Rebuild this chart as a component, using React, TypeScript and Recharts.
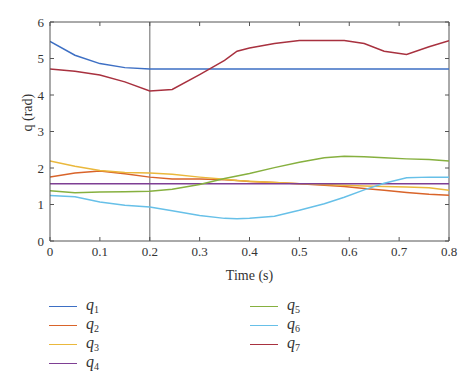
import { LineChart, Line, XAxis, YAxis, ReferenceLine } from "recharts";

const time = [0, 0.05, 0.1, 0.15, 0.2, 0.245, 0.3, 0.35, 0.375, 0.4, 0.45, 0.5, 0.55, 0.59, 0.63, 0.67, 0.715, 0.76, 0.8];

const q1 = [5.47, 5.09, 4.86, 4.75, 4.71, 4.71, 4.71, 4.71, 4.71, 4.71, 4.71, 4.71, 4.71, 4.71, 4.71, 4.71, 4.71, 4.71, 4.71];
const q2 = [1.75, 1.86, 1.92, 1.84, 1.75, 1.7, 1.7, 1.68, 1.66, 1.63, 1.6, 1.57, 1.53, 1.49, 1.44, 1.39, 1.33, 1.28, 1.25];
const q3 = [2.19, 2.05, 1.93, 1.88, 1.86, 1.83, 1.75, 1.69, 1.66, 1.64, 1.6, 1.57, 1.55, 1.53, 1.51, 1.49, 1.48, 1.46, 1.39];
const q4 = [1.57, 1.57, 1.57, 1.57, 1.57, 1.57, 1.57, 1.57, 1.57, 1.57, 1.57, 1.57, 1.57, 1.57, 1.57, 1.57, 1.57, 1.57, 1.57];
const q5 = [1.38, 1.32, 1.34, 1.35, 1.36, 1.42, 1.55, 1.71, 1.78, 1.85, 2.01, 2.16, 2.28, 2.32, 2.31, 2.28, 2.25, 2.23, 2.19];
const q6 = [1.25, 1.21, 1.07, 0.98, 0.93, 0.83, 0.7, 0.62, 0.61, 0.62, 0.68, 0.84, 1.02, 1.2, 1.4, 1.58, 1.73, 1.75, 1.75];
const q7 = [4.71, 4.65, 4.55, 4.36, 4.11, 4.15, 4.56, 4.95, 5.2, 5.29, 5.41, 5.49, 5.49, 5.49, 5.41, 5.2, 5.11, 5.32, 5.49];

const xTicks = [0, 0.1, 0.2, 0.3, 0.4, 0.5, 0.6, 0.7, 0.8];
const yTicks = [0, 1, 2, 3, 4, 5, 6];
const xMax = 0.8;

const series = [
  { key: "q1", sub: "1", color: "#3d6fc4", values: q1 },
  { key: "q2", sub: "2", color: "#d9642a", values: q2 },
  { key: "q3", sub: "3", color: "#eab83c", values: q3 },
  { key: "q4", sub: "4", color: "#7e3f94", values: q4 },
  { key: "q5", sub: "5", color: "#86b03f", values: q5 },
  { key: "q6", sub: "6", color: "#67c0e8", values: q6 },
  { key: "q7", sub: "7", color: "#a8313f", values: q7 },
];

const data = time.map((t, i) => {
  const row: Record<string, number> = { t };
  series.forEach((s) => (row[s.key] = s.values[i]));
  return row;
});

const serif = "Liberation Serif";
const axisColor = "#555";
const tickStyle = { fill: "#333", fontSize: 13, fontFamily: serif };
// inward tick length on the right edge, in time units (about 4px)
const rightTickLen = 0.008;

function ChartLegend() {
  return (
    <div style={{ position: "absolute", left: 0, top: 0, width: 474, height: 389, pointerEvents: "none" }}>
      {series.map((s, i) => {
        const col = i < 4 ? 0 : 1;
        const row = i < 4 ? i : i - 4;
        const left = col === 0 ? 49 : 250;
        const top = 307 + row * 19;
        return (
          <div key={s.key}>
            <div style={{ position: "absolute", left, top: top - 1, width: 28, height: 0, borderTop: `1.5px solid ${s.color}` }} />
            <div
              style={{
                position: "absolute",
                left: left + 37,
                top: top - 11,
                fontStyle: "italic",
                fontSize: 16,
                color: "#333",
                lineHeight: "18px",
              }}
            >
              q<span style={{ fontSize: 10, fontStyle: "normal", verticalAlign: "-3px" }}>{s.sub}</span>
            </div>
          </div>
        );
      })}
    </div>
  );
}

export default function App() {
  return (
    <div style={{ position: "absolute", left: 0, top: 0, width: 474, height: 389, background: "#fff", fontFamily: serif }}>
      <LineChart
        width={474}
        height={389}
        data={data}
        margin={{ top: 21, right: 25, bottom: 108, left: 10 }}
        style={{ fontFamily: serif }}
      >
        <XAxis
          dataKey="t"
          type="number"
          domain={[0, xMax]}
          allowDataOverflow
          ticks={xTicks}
          tickSize={-4}
          tickMargin={10}
          stroke={axisColor}
          tick={tickStyle}
          height={40}
          label={{ value: "Time (s)", position: "insideBottom", offset: 1, fill: "#333", fontSize: 14, fontFamily: serif }}
        />
        <XAxis
          xAxisId="top"
          dataKey="t"
          orientation="top"
          type="number"
          domain={[0, xMax]}
          allowDataOverflow
          ticks={xTicks}
          tickFormatter={() => ""}
          tickSize={-4}
          height={1}
          stroke={axisColor}
        />
        <YAxis
          type="number"
          domain={[0, 6]}
          allowDataOverflow
          ticks={yTicks}
          tickSize={-4}
          tickMargin={10}
          stroke={axisColor}
          tick={tickStyle}
          width={40}
          label={{ value: "q (rad)", angle: -90, position: "insideLeft", offset: 17, fill: "#333", fontSize: 14, fontFamily: serif }}
        />
        <ReferenceLine x={0.2} stroke="#999" strokeWidth={1.5} />
        <ReferenceLine x={xMax} stroke={axisColor} strokeWidth={1} ifOverflow="visible" />
        {yTicks.map((v) => (
          <ReferenceLine
            key={`rt${v}`}
            segment={[
              { x: xMax - rightTickLen, y: v },
              { x: xMax, y: v },
            ]}
            stroke={axisColor}
            strokeWidth={1}
            ifOverflow="visible"
          />
        ))}
        {series.map((s) => (
          <Line
            key={s.key}
            dataKey={s.key}
            type="linear"
            stroke={s.color}
            strokeWidth={1.5}
            dot={false}
            isAnimationActive={false}
          />
        ))}
      </LineChart>
      <ChartLegend />
    </div>
  );
}
